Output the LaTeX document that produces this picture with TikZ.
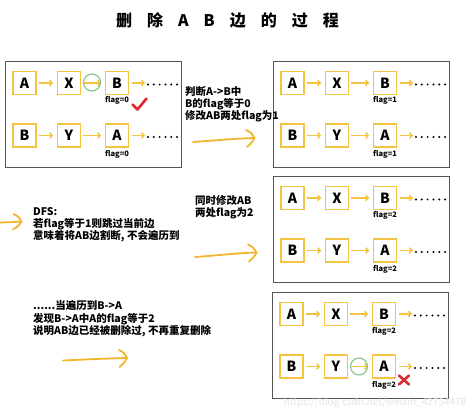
\documentclass[tikz,border=0pt]{standalone}
\usepackage{fontspec}
\setmainfont{Noto Sans CJK SC}
\usetikzlibrary{arrows.meta}
\definecolor{ylw}{HTML}{F5C342}
\definecolor{ylwd}{HTML}{F2B52E}
\definecolor{framec}{HTML}{555555}
\definecolor{grn}{HTML}{86C38A}
\definecolor{redc}{HTML}{E0262E}
\newcommand{\dotrow}[2]{%
  \foreach \k in {0,...,5} {\fill[black] (#1+5.8*\k,#2) circle (1.1);}}
\newcommand{\mypanel}[5]{%
  \begin{scope}[shift={(#2,#3)}]
    \node[panelbox, anchor=north west] (#1box) at (0,0) {};
    \node[vbox] (#1a1) at (19.5,22) {A};
    \node[vbox] (#1x1) at (64,22) {X};
    \node[vbox] (#1b1) at (112,22) {B};
    \node[vbox] (#1b2) at (19.5,74.5) {B};
    \node[vbox] (#1y2) at (64,74.5) {Y};
    \node[vbox] (#1a2) at (112,74.5) {A};
    \coordinate (#1e1) at (140,22);
    \coordinate (#1e2) at (140,74.5);
    \draw[link] ([xshift=2pt]#1a1.east) -- ([xshift=-3.5pt]#1x1.west);
    \draw[link] ([xshift=2pt]#1x1.east) -- ([xshift=-3.5pt]#1b1.west);
    \draw[link] ([xshift=3pt]#1b1.east) -- (#1e1);
    \draw[link] ([xshift=2pt]#1b2.east) -- ([xshift=-3.5pt]#1y2.west);
    \draw[link] ([xshift=2pt]#1y2.east) -- ([xshift=-3.5pt]#1a2.west);
    \draw[link] ([xshift=3pt]#1a2.east) -- (#1e2);
    \dotrow{143}{23.5}
    \dotrow{143}{76}
    \node[flagtxt] (#1f1) at (112,39.5) {flag=#4};
    \node[flagtxt] (#1f2) at (112,93) {flag=#5};
  \end{scope}}
\begin{document}
\begin{tikzpicture}[x=1pt,y=-1pt,
  vbox/.style={draw=ylw, line width=1.6pt, minimum size=23pt, inner sep=0pt,
    font=\bfseries\fontsize{14}{14}\selectfont},
  link/.style={draw=ylw, line width=1.5pt, -{Straight Barb[length=2.5pt,width=5.5pt]}},
  panelbox/.style={draw=framec, line width=1.2pt, minimum width=176pt,
    minimum height=106pt, inner sep=0pt},
  flagtxt/.style={font=\bfseries\fontsize{7.5}{8}\selectfont, inner sep=0pt},
  note/.style={font=\bfseries\fontsize{10.5}{12}\selectfont, align=left,
    anchor=north west, inner sep=0pt},
  hand/.style={draw=ylwd, line width=1.8pt, line cap=round, line join=round},
  ring/.style={draw=grn, circle, line width=1.1pt, minimum size=17pt, inner sep=0pt},
  redmark/.style={draw=redc, line width=2.6pt, line cap=round, line join=round}]
\useasboundingbox (0,0) rectangle (474,415);
\fill[white] (0,0) rectangle (474,415);

% title
\node[font=\bfseries\fontsize{16}{16}\selectfont, inner sep=0pt] (title) at (227.5,20)
  {删\hspace{15pt}除\hspace{15pt}A\hspace{15pt}B\hspace{15pt}边\hspace{15pt}的\hspace{15pt}过\hspace{15pt}程};

% panels
\mypanel{p}{5}{61}{0}{0}
\mypanel{q}{273}{61}{1}{1}
\mypanel{r}{273}{176}{2}{2}
\mypanel{s}{272}{292}{2}{2}

% marks
\node[ring] (ring1) at (92,82.5) {};
\node[ring] (ring2) at (359,366.5) {};
\draw[redmark] (132.5,104.5) -- (137.5,109.5) -- (146.5,98.5);
\draw[redmark] (399,375.5) -- (409,384.5);
\draw[redmark] (409,375.5) -- (399,384.5);

% notes
\node[note] (n1) at (185,86) {判断A->B中\\B的flag等于0\\修改AB两处flag为1};
\node[note, font=\bfseries\fontsize{10.5}{11.6}\selectfont] (n2) at (33,207.3) {DFS:\\若flag等于1则跳过当前边\\意味着将AB边割断, 不会遍历到};
\node[note] (n3) at (195,195.5) {同时修改AB\\两处flag为2};
\node[note, font=\bfseries\fontsize{10.5}{12.8}\selectfont] (n4) at (33,300) {......当遍历到B->A\\发现B->A中A的flag等于2\\说明AB边已经被删除过, 不再重复删除};

% hand-drawn arrows
\coordinate (h1s) at (193,142); \coordinate (h1t) at (254.5,138);
\draw[hand] (h1s) .. controls (215,140.5) and (235,138.5) .. (h1t);
\draw[hand] (246,130) .. controls (251,132.5) .. (h1t) .. controls (252,142.5) .. (247,147);
\coordinate (h2s) at (195,257); \coordinate (h2t) at (256.5,252.5);
\draw[hand] (h2s) .. controls (217,255.5) and (237,253) .. (h2t);
\draw[hand] (248,244.5) .. controls (253,247) .. (h2t) .. controls (254,257) .. (249,261.5);
\coordinate (h3s) at (63,360.5); \coordinate (h3t) at (127,358);
\draw[hand] (h3s) .. controls (85,359.5) and (105,358.5) .. (h3t);
\draw[hand] (119,350) .. controls (124,352.5) .. (h3t) .. controls (124.5,362.5) .. (119.5,367);
\coordinate (h4s) at (-2,222.5); \coordinate (h4t) at (21.5,221.5);
\draw[hand] (h4s) .. controls (6,222.5) and (14,222) .. (h4t);
\draw[hand] (13.5,214) .. controls (18.5,216.5) .. (h4t) .. controls (18.5,226) .. (13,229.5);

% watermark
\node[font=\fontsize{10}{10}\selectfont, text=black!10, inner sep=0pt] (wm) at (375,403)
  {https://blog.csdn.net/weixin\_42754478};
\end{tikzpicture}
\end{document}
